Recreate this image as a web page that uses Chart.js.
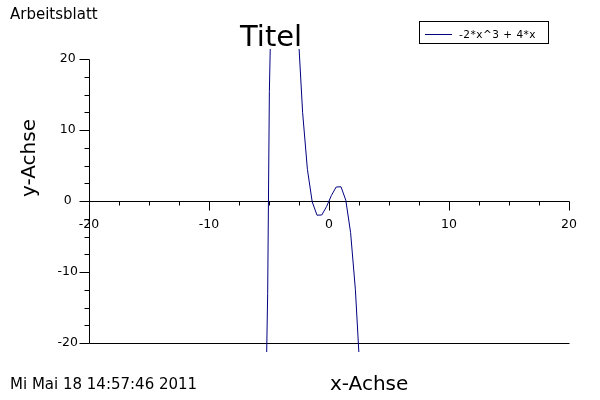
<!DOCTYPE html>
<html>
<head>
<meta charset="utf-8">
<title>Arbeitsblatt</title>
<script src="https://cdn.jsdelivr.net/npm/chart.js@4.4.1/dist/chart.umd.min.js"></script>
<style>
  html, body { margin: 0; padding: 0; background: #fff; }
  #wrap { position: relative; width: 600px; height: 400px; overflow: hidden;
          font-family: "DejaVu Sans", sans-serif; color: #000; }
  #chartBox { position: absolute; left: 0; top: 0; width: 600px; height: 400px; }
  .txt { position: absolute; white-space: nowrap; line-height: 1; }
  #sheet { left: 10px; top: 7px; font-size: 15px; }
  #title { left: 240px; top: 22px; font-size: 29px; }
  #stamp { left: 10px; top: 377px; font-size: 15px; }
  #xTitle { left: 330px; top: 373px; font-size: 20px; }
  #yTitle { left: -22px; top: 148px; width: 100px; height: 20px; font-size: 20px;
            text-align: center; transform: rotate(-90deg); }
  #legend { position: absolute; left: 419px; top: 21px; width: 128px; height: 21px;
            border: 1px solid #000; background: #fff; }
  #legend .swatch { position: absolute; left: 5px; top: 12px; width: 27px; height: 1px; }
  #legend .label { position: absolute; left: 39px; top: 7px; font-size: 10.5px;
                   letter-spacing: 0.5px; line-height: 1; white-space: nowrap; }
</style>
</head>
<body>
<div id="wrap">
  <div id="chartBox"><canvas id="plot"></canvas></div>
  <div class="txt" id="sheet">Arbeitsblatt</div>
  <div class="txt" id="title">Titel</div>
  <div class="txt" id="stamp">Mi Mai 18 14:57:46 2011</div>
  <div class="txt" id="xTitle">x-Achse</div>
  <div class="txt" id="yTitle">y-Achse</div>
  <div id="legend"><div class="swatch"></div><div class="label"></div></div>
</div>
<script>
// Werte
const seriesLabel = "-2*x^3 + 4*x";
const curveX = [-5.22, -5.11, -4.97, -4.84, -2.6, -2.2, -1.8, -1.4, -1.0, -0.6,
                -0.2, 0.2, 0.6, 1.0, 1.4, 1.8, 2.2, 2.6];
const curveY = [-24, -13.0, 15.4, 26, 24.75, 12.5, 4.46, -0.11, -2.0, -1.97,
                -0.78, 0.78, 1.97, 2.0, 0.11, -4.46, -12.5, -24.75];

const xTickValues = [-20, -10, 0, 10, 20];
const yTickValues = [-20, -10, 0, 10, 20];
const minorStep = 2.5;

const lineColor = "rgb(0, 0, 128)";

// Achsenkreuz im Stil des Originals (Achse bei y = 0, Striche nach unten/links)
const axisDecor = {
    id: "axisDecor",
    beforeDatasetsDraw(chart) {
        const { ctx, scales: { x, y } } = chart;
        const xMin = xTickValues[0], xMax = xTickValues[xTickValues.length - 1];
        const yMin = yTickValues[0], yMax = yTickValues[yTickValues.length - 1];
        const px = v => Math.round(x.getPixelForValue(v)) + 0.5;
        const py = v => Math.round(y.getPixelForValue(v)) + 0.5;
        const left = px(xMin), right = px(xMax);
        const y0 = py(0), yBottom = py(yMin);

        ctx.save();
        ctx.strokeStyle = "#000";
        ctx.lineWidth = 1;
        ctx.beginPath();
        // y-Achse
        ctx.moveTo(left, py(yMax));
        ctx.lineTo(left, yBottom);
        // x-Achse bei 0
        ctx.moveTo(left, y0);
        ctx.lineTo(right, y0);
        // untere Linie
        ctx.moveTo(left, yBottom);
        ctx.lineTo(right, yBottom);

        for (let v = yMin; v <= yMax; v += minorStep) {
            const len = yTickValues.includes(v) ? 10 : 5;
            ctx.moveTo(left - len, py(v));
            ctx.lineTo(left, py(v));
        }
        for (let v = xMin; v <= xMax; v += minorStep) {
            const len = xTickValues.includes(v) ? 9 : 4;
            ctx.moveTo(px(v), y0);
            ctx.lineTo(px(v), y0 + len);
        }
        ctx.stroke();
        ctx.restore();
    },
};

Chart.defaults.font.family = "'DejaVu Sans', sans-serif";
Chart.defaults.font.size = 12.5;
Chart.defaults.color = "#000";

new Chart(document.getElementById("plot"), {
    type: "line",
    data: {
        datasets: [{
            label: seriesLabel,
            data: curveX.map((x, i) => ({ x: x, y: curveY[i] })),
            borderColor: lineColor,
            borderWidth: 1,
            pointRadius: 0,
            tension: 0,
            fill: false,
            clip: { left: 5, top: 10, right: 5, bottom: 9 },
        }],
    },
    options: {
        responsive: true,
        maintainAspectRatio: false,
        animation: false,
        layout: { padding: { left: 44, top: 59, right: 31, bottom: 57 } },
        plugins: {
            legend: { display: false },
            tooltip: { enabled: false },
        },
        scales: {
            x: {
                type: "linear",
                min: -20, max: 20,
                position: { y: 0 },
                grid: { display: false, drawTicks: false },
                border: { display: false },
                afterBuildTicks: s => { s.ticks = xTickValues.map(v => ({ value: v })); },
                ticks: { padding: 16, maxRotation: 0, autoSkip: false },
            },
            y: {
                type: "linear",
                min: -20, max: 20,
                grid: { display: false, drawTicks: false },
                border: { display: false },
                afterBuildTicks: s => { s.ticks = yTickValues.map(v => ({ value: v })); },
                afterFit: s => { s.width = 45; },
                ticks: { padding: 11, crossAlign: "center" },
            },
        },
    },
    plugins: [axisDecor],
});

// Legende
document.querySelector("#legend .swatch").style.background = lineColor;
document.querySelector("#legend .label").textContent = seriesLabel;
</script>
</body>
</html>
